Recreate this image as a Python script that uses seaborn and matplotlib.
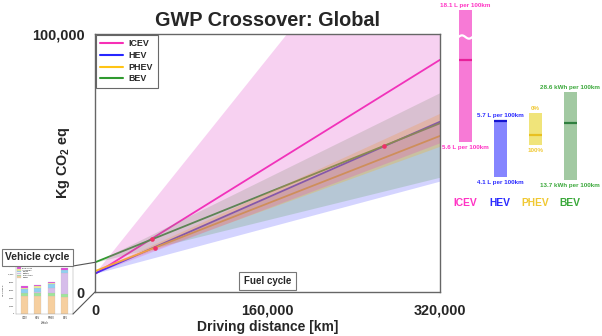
import numpy as np
import pandas as pd
import matplotlib
matplotlib.use("Agg")
import matplotlib.pyplot as plt
import seaborn as sns
from matplotlib.patches import ConnectionPatch
from matplotlib.lines import Line2D

# ---------------- data ----------------
vehicles = ["ICEV", "HEV", "PHEV", "BEV"]
distance_km = [0, 320000]
vehicle_cycle = [7000, 7200, 8100, 11500]      # kg CO2 eq at 0 km
total_mid = [90000, 66000, 60500, 65400]       # kg CO2 eq at 320,000 km
total_low = [57600, 43000, 56500, 44500]
total_high = [174000, 66000, 69300, 77300]
cross_km = [52600, 55600, 268000]
cross_kg = [20500, 17000, 56500]

# right panel: fuel economy ranges (relative bar scale 0-100)
range_top_label = ["18.1 L per 100km", "5.7 L per 100km", "0%", "28.6 kWh per 100km"]
range_bot_label = ["5.6 L per 100km", "4.1 L per 100km", "100%", "13.7 kWh per 100km"]
range_top = [100, 38.9, 42.8, 54.4]
range_bot = [26.7, 7.2, 25.0, 5.6]
range_mark = [72.2, 38.3, 30.6, 37.2]
icev_break = 85.0

# inset: vehicle cycle breakdown
parts = ["Glider", "Powertrain", "Battery", "Fluids", "Assembly", "End of life"]
part_vals = {
    "Glider":      [4600, 4500, 4600, 4300],
    "Powertrain":  [700, 700, 700, 700],
    "Battery":     [0, 400, 1100, 5300],
    "Fluids":      [1000, 1000, 1000, 600],
    "Assembly":    [300, 300, 300, 200],
    "End of life": [400, 300, 400, 400],
}
part_colors = ["#f6cf9f", "#9ee59a", "#d6bdea", "#8fd0f2", "#f1f08e", "#e244dc"]

line_colors = ["#f72fb6", "#2626ff", "#ffc414", "#2f9a2f"]
band_colors = ["#df3fc8", "#3d3dff", "#f7b526", "#4a9a3a"]
band_alpha = [0.24, 0.22, 0.30, 0.21]
bar_colors = ["#f77ad6", "#8585ff", "#f0e47a", "#a2c9a2"]
mark_colors = ["#e8209a", "#1515d0", "#e8c020", "#2f7f3f"]
label_colors = ["#ff33c4", "#2a2aff", "#f0c832", "#3aa83a"]

# ---------------- style ----------------
sns.set_style("white")
plt.rcParams["font.family"] = ["Liberation Sans", "DejaVu Sans"]
plt.rcParams["mathtext.fontset"] = "custom"
plt.rcParams["mathtext.bf"] = "Liberation Sans:bold"
plt.rcParams["mathtext.rm"] = "Liberation Sans:bold"

W, H = 602, 336
fig = plt.figure(figsize=(W / 100, H / 100), dpi=100)

def px(x0, y0, x1, y1):
    return [x0 / W, 1 - y1 / H, (x1 - x0) / W, (y1 - y0) / H]

# ---------------- main axes ----------------
ax = fig.add_axes(px(95, 34, 440, 292))
rows = []
for v, vc, m in zip(vehicles, vehicle_cycle, total_mid):
    rows.append({"vehicle": v, "km": distance_km[0], "kg": vc})
    rows.append({"vehicle": v, "km": distance_km[1], "kg": m})
df = pd.DataFrame(rows)
sns.lineplot(data=df, x="km", y="kg", hue="vehicle", hue_order=vehicles,
             palette=line_colors, ax=ax, legend=False, lw=1.3, zorder=1.5)

order = [1, 3, 2, 0]
for i in order:
    vc = vehicle_cycle[i]
    ax.fill_between(distance_km, [vc, total_low[i]], [vc, total_high[i]],
                    color=band_colors[i], alpha=band_alpha[i], lw=0, zorder=2)

ax.scatter(cross_km, cross_kg, s=11, color="#ee3068", zorder=4, lw=0)

ax.set_xlim(0, 320000)
ax.set_ylim(0, 100000)
ax.set_xticks([0, 160000, 320000])
ax.set_xticklabels(["0", "160,000", "320,000"])
ax.set_yticks(np.arange(0, 100001, 20000))
ax.set_yticklabels(["0", "", "", "", "", "100,000"])
for lab in ax.get_xticklabels() + ax.get_yticklabels():
    lab.set_fontweight("bold")
    lab.set_fontsize(10.4)
ax.tick_params(axis="both", direction="out", length=3.5, width=0.8, color="#666666")
ax.tick_params(axis="y", pad=4)
ax.tick_params(axis="x", pad=5)
for s in ax.spines.values():
    s.set_color("#666666")
    s.set_linewidth(1.0)
ax.set_xlabel("Driving distance [km]", fontsize=10, fontweight="bold", labelpad=1.5)
ax.set_ylabel(r"Kg CO$_2$ eq", fontsize=10.4, fontweight="bold")
ax.yaxis.set_label_coords(-0.068, 0.5)
ax.set_title("GWP Crossover: Global", fontsize=14.3, fontweight="bold", pad=5.5)

handles = [Line2D([0], [0], color=c, lw=1.5) for c in line_colors]
leg = ax.legend(handles, vehicles, loc="upper left", bbox_to_anchor=(0, 1),
                prop={"weight": "bold", "size": 6.4}, frameon=True, fancybox=False,
                edgecolor="#444444", handlelength=2.6, labelspacing=0.3,
                borderaxespad=0.1, borderpad=0.5, handletextpad=0.6)
leg.get_frame().set_linewidth(0.8)

# ---------------- inset ----------------
axi = fig.add_axes(px(16, 266, 73, 314))
bottom = np.zeros(len(vehicles))
for p, c in zip(parts, part_colors):
    vals = np.array(part_vals[p], dtype=float)
    axi.bar(np.arange(len(vehicles)), vals, bottom=bottom, width=0.5, color=c,
            label=p, edgecolor="#bbbbbb", lw=0.15)
    bottom += vals
axi.set_ylim(0, 12000)
axi.set_xlim(-0.6, 3.6)
axi.set_xticks(range(len(vehicles)))
axi.set_xticklabels(vehicles, fontsize=1.8)
axi.set_yticks(np.arange(0, 12001, 2000))
axi.set_yticklabels([f"{v:,}" for v in range(0, 12001, 2000)], fontsize=1.5)
axi.tick_params(length=0.8, width=0.2, pad=0.5)
axi.set_xlabel("Vehicle", fontsize=1.8, labelpad=0.5)
axi.set_ylabel(r"Kg CO$_2$ eq", fontsize=1.7)
axi.yaxis.set_label_coords(-0.16, 0.5)
for s in axi.spines.values():
    s.set_linewidth(0.3)
    s.set_color("#999999")
h_, l_ = axi.get_legend_handles_labels()
axi.legend(h_[::-1], l_[::-1], loc="upper left", fontsize=1.6, frameon=False,
           handlelength=1.5, handleheight=0.6, labelspacing=0.15, borderaxespad=0.2)

for xa, ya in [(1, 1), (1, 0)]:
    yb = max(vehicle_cycle) if ya == 1 else 0
    con = ConnectionPatch(xyA=(xa, ya), coordsA=axi.transAxes,
                          xyB=(0, yb), coordsB=ax.transData,
                          color="#555555", lw=0.8)
    fig.add_artist(con)

fig.text(37.5 / W, 1 - 257.5 / H, "Vehicle cycle", fontsize=7.4, fontweight="bold",
         ha="center", va="center",
         bbox=dict(boxstyle="square,pad=0.35", fc="white", ec="#777777", lw=0.8))
fig.text(267.5 / W, 1 - 281 / H, "Fuel cycle", fontsize=7, fontweight="bold",
         ha="center", va="center", zorder=10,
         bbox=dict(boxstyle="square,pad=0.45", fc="white", ec="#777777", lw=0.8))

# ---------------- right panel ----------------
axr = fig.add_axes(px(448, 10, 587.6, 190))
xr = np.arange(len(vehicles))
heights = [t - b for t, b in zip(range_top, range_bot)]
axr.bar(xr, heights, bottom=range_bot, width=0.37, color=bar_colors, lw=0)
axr.hlines(range_mark, xr - 0.185, xr + 0.185, colors=mark_colors, lw=1.6)
bx = np.linspace(-0.2, 0.2, 30)
axr.plot(bx, icev_break + 0.9 * np.sin((bx + 0.2) / 0.4 * 2 * np.pi), color="white", lw=1.6)
for i in range(len(vehicles)):
    axr.annotate(range_top_label[i], (xr[i], range_top[i]), xytext=(0, 1.5),
                 textcoords="offset points", ha="center", va="bottom",
                 fontsize=4.5, fontweight="bold", color=label_colors[i])
    axr.annotate(range_bot_label[i], (xr[i], range_bot[i]), xytext=(0, -2),
                 textcoords="offset points", ha="center", va="top",
                 fontsize=4.5, fontweight="bold", color=label_colors[i])
axr.set_xlim(-0.5, 3.5)
axr.set_ylim(0, 100)
axr.set_xticks(xr)
axr.set_xticklabels(vehicles, fontsize=7.4, fontweight="bold")
for lab, c in zip(axr.get_xticklabels(), label_colors):
    lab.set_color(c)
axr.tick_params(axis="x", length=0, pad=6)
axr.set_yticks([])
for s in axr.spines.values():
    s.set_visible(False)
axr.patch.set_alpha(0)

fig.savefig("out.png", dpi=100)
